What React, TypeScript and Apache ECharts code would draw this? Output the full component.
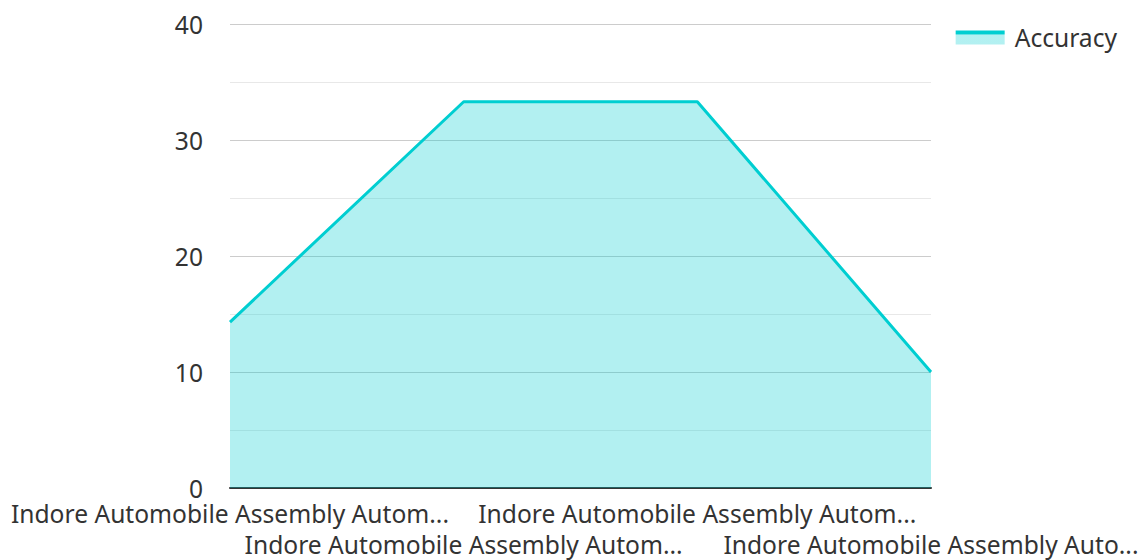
import React, { useEffect, useRef } from "react";
import * as echarts from "echarts";

const categories = [
  "Indore Automobile Assembly Autom...",
  "Indore Automobile Assembly Autom...",
  "Indore Automobile Assembly Autom...",
  "Indore Automobile Assembly Auto...",
];
const accuracy = [14.3, 33.3, 33.3, 10];
const seriesName = "Accuracy";
const yMin = 0;
const yMax = 40;
const yInterval = 10;

const FONT = "Noto Sans";
const FS = 24.6;
const LINE = "#00CED1";
const AREA = "rgba(0,206,209,0.3)";

export default function App() {
  const ref = useRef<HTMLDivElement>(null);
  useEffect(() => {
    if (!ref.current) return;
    const chart = echarts.init(ref.current, undefined, { renderer: "svg" });
    chart.setOption({
      animation: false,
      textStyle: { fontFamily: FONT },
      grid: { left: 230, right: 213, top: 24, bottom: 70, containLabel: false },
      legend: {
        right: 22,
        top: 20,
        itemWidth: 49,
        itemHeight: 14,
        itemGap: 10,
        textStyle: { fontFamily: FONT, fontSize: FS, color: "#333", padding: [0, 0, 0, 5] },
        data: [
          {
            name: seriesName,
            icon: "rect",
            itemStyle: {
              color: new echarts.graphic.LinearGradient(0, 0, 0, 1, [
                { offset: 0, color: LINE },
                { offset: 0.28, color: LINE },
                { offset: 0.29, color: AREA },
                { offset: 1, color: AREA },
              ]),
            },
          },
        ],
      },
      xAxis: {
        type: "category",
        data: categories,
        boundaryGap: false,
        axisLine: { show: true, lineStyle: { color: "#333", width: 2 } },
        axisTick: { show: false },
        axisLabel: {
          interval: 0,
          hideOverlap: false,
          margin: 10,
          fontFamily: FONT,
          fontSize: FS,
          color: "#333",
          lineHeight: 31,
          formatter: (v: string, i: number) => (i % 2 === 1 ? "\n" + v : v),
        },
      },
      yAxis: {
        type: "value",
        min: yMin,
        max: yMax,
        interval: yInterval,
        axisLine: { show: false },
        axisTick: { show: false },
        axisLabel: { margin: 27, fontFamily: FONT, fontSize: FS, color: "#333" },
        splitLine: { show: true, lineStyle: { color: "#cccccc", width: 1 } },
        minorTick: { show: false, splitNumber: 2 },
        minorSplitLine: { show: true, lineStyle: { color: "#e8e8e8", width: 1 } },
      },
      series: [
        {
          name: seriesName,
          type: "line",
          data: accuracy,
          symbol: "none",
          lineStyle: { color: LINE, width: 3 },
          itemStyle: { color: LINE },
          areaStyle: { color: AREA, opacity: 1 },
        },
      ],
    });
    return () => chart.dispose();
  }, []);
  return (
    <div
      ref={ref}
      style={{ position: "absolute", left: 0, top: 0, width: 1144, height: 560 }}
    />
  );
}
